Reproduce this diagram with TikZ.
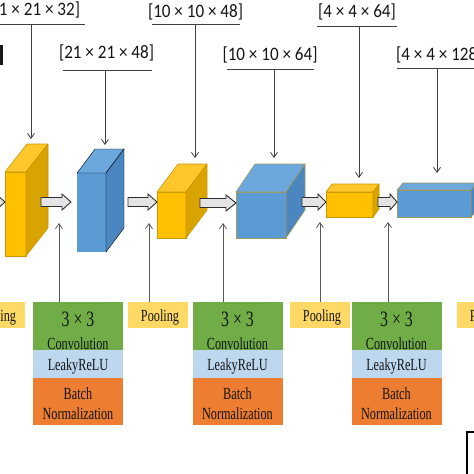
\documentclass[tikz,border=0pt]{standalone}
\usepackage{fontspec}
\usetikzlibrary{arrows.meta,calc}
\newfontfamily\labfont[FakeStretch=0.9]{Carlito}
\newfontfamily\boxfont[FakeStretch=0.72]{Liberation Serif}
\definecolor{yfront}{HTML}{FFC000}
\definecolor{ytop}{HTML}{FFC72C}
\definecolor{yside}{HTML}{D9A300}
\definecolor{yedge}{HTML}{C99700}
\definecolor{bfront}{HTML}{5B9BD5}
\definecolor{btop}{HTML}{6CA7DD}
\definecolor{bside}{HTML}{4B86C0}
\definecolor{bedge}{HTML}{A09A5C}
\definecolor{convg}{HTML}{70AD47}
\definecolor{relub}{HTML}{BDD7EE}
\definecolor{bno}{HTML}{ED7D31}
\definecolor{poolY}{HTML}{FFD966}
\definecolor{txt}{HTML}{141414}
\definecolor{arrfill}{HTML}{E4E4E4}
\definecolor{arredge}{HTML}{2E2E2E}
\newcommand\cubeshape[7]{%
  \node[#7front, minimum width=#3pt, minimum height=#4pt] (#1) at #2 {};
  \filldraw[#7top] (#1.north west) -- ++(#5,#6) -- ($(#1.north east)+(#5,#6)$) -- (#1.north east) -- cycle;
  \filldraw[#7side] (#1.north east) -- ++(#5,#6) -- ($(#1.south east)+(#5,#6)$) -- (#1.south east) -- cycle;
}
\newcommand\barrow[3]{%
  \draw[blockarr] (#1) ++(0,-4.5) -- ++(#2,0) -- ++(0,-3.5) -- ++(#3,8) -- ++(-#3,8) -- ++(0,-3.5) -- ++(-#2,0) -- cycle;
}
\tikzset{
  face/.style={inner sep=0pt, outer sep=0pt, anchor=north west},
  Yfront/.style={face, fill=yfront, draw=yedge, line width=0.6pt},
  Ytop/.style={fill=ytop, draw=yedge, line width=0.6pt, line join=round},
  Yside/.style={fill=yside, draw=yedge, line width=0.6pt, line join=round},
  Bfront/.style={face, fill=bfront},
  Btop/.style={fill=btop},
  Bside/.style={fill=bside},
  Efront/.style={face, fill=bfront, draw=bedge, line width=0.6pt},
  Etop/.style={fill=btop, draw=bedge, line width=0.6pt, line join=round},
  Eside/.style={fill=bside, draw=bedge, line width=0.6pt, line join=round},
  blockarr/.style={fill=arrfill, draw=arredge, line width=0.9pt, line join=miter},
  toplab/.style={font=\labfont\fontsize{19}{19}\selectfont, text=txt, inner sep=0pt},
  uline/.style={draw=black!75, line width=0.9pt},
  dnarr/.style={draw=black!75, line width=0.8pt, -{Straight Barb[length=5pt,width=7pt]}},
  uparr/.style={draw=black!65, line width=0.8pt, -{Straight Barb[length=5pt,width=7pt]}},
  boxbase/.style={inner sep=0pt, outer sep=0pt, minimum width=90pt},
  convbox/.style={boxbase, fill=convg, minimum height=48pt},
  relubox/.style={boxbase, fill=relub, minimum height=28pt},
  bnbox/.style={boxbase, fill=bno, minimum height=47pt},
  poolbox/.style={inner sep=0pt, outer sep=0pt, minimum width=60pt, minimum height=26pt, fill=poolY},
  boxtext/.style={inner sep=0pt, text=txt, align=center, font=\boxfont\fontsize{17}{20}\selectfont},
  convtext/.style={boxtext, font=\boxfont\fontsize{17}{23}\selectfont},
}
\begin{document}
\begin{tikzpicture}[x=1pt,y=-1pt]
\useasboundingbox (0,0) rectangle (474,474);
% top labels
\node[toplab] (t1) at (32.5,10) {[21 × 21 × 32]};
\node[toplab] (t2) at (106.5,53) {[21 × 21 × 48]};
\node[toplab] (t3) at (195.5,12) {[10 × 10 × 48]};
\node[toplab] (t4) at (270,55) {[10 × 10 × 64]};
\node[toplab] (t5) at (357,12) {[4 × 4 × 64]};
\node[toplab, anchor=west] (t6) at (396,55) {[4 × 4 × 128]};
\coordinate (u1a) at (-5,24);  \coordinate (u1b) at (85,24);
\coordinate (u2a) at (63,70);  \coordinate (u2b) at (152,70);
\coordinate (u3a) at (152,24); \coordinate (u3b) at (240,24);
\coordinate (u4a) at (227,69); \coordinate (u4b) at (314,69);
\coordinate (u5a) at (317,26); \coordinate (u5b) at (397,26);
\coordinate (u6a) at (397,68); \coordinate (u6b) at (480,68);
\foreach \i in {1,...,6} {\draw[uline] (u\i a) -- (u\i b);}
% cubes
\cubeshape{c1}{(5,172)}{21}{84}{22}{-28}{Y}
\cubeshape{c2}{(77,173)}{29}{79}{18}{-24}{B}
\cubeshape{c3}{(157,192)}{29}{46}{21}{-28}{Y}
\cubeshape{c4}{(236,192)}{50}{46}{19}{-28}{E}
\cubeshape{c5}{(326,192)}{47}{25}{6}{-8}{Y}
\cubeshape{c6}{(397,190)}{74}{27}{6}{-7}{E}
% down arrows
\coordinate (d1) at (31,139);
\coordinate (d2) at (105,145);
\coordinate (d3) at (195,158);
\coordinate (d4) at (274,158);
\coordinate (d5) at (359,178);
\coordinate (d6) at (437,173);
\foreach \i in {1,...,6} {\draw[dnarr] (d\i |- u\i a) -- (d\i);}
% block arrows
\coordinate (a0) at (-25,202);
\coordinate (a1) at (41,202);
\coordinate (a2) at (128,202);
\coordinate (a3) at (200,203);
\coordinate (a4) at (302,202);
\coordinate (a5) at (378,202);
\barrow{a0}{21}{9}
\barrow{a1}{21}{9}
\barrow{a2}{20}{9}
\barrow{a3}{26}{10}
\barrow{a4}{16}{8}
\barrow{a5}{12}{7}
% bottom boxes
\foreach \n/\x in {1/-5, 2/158, 3/320, 4/487} {
  \node[poolbox] (p\n) at (\x,315) {};
  \node[boxtext] (pt\n) at ($(p\n)+(2,2)$) {Pooling};
}
\foreach \n/\x in {1/78, 2/237.5, 3/396.5} {
  \node[convbox] (g\n) at (\x,326) {};
  \node[convtext] (gt\n) at ($(g\n)+(0,5)$) {{\fontsize{22}{23}\selectfont 3 × 3}\\Convolution};
  \node[relubox] (r\n) at (\x,364) {};
  \node[boxtext] (rt\n) at ($(r\n)+(0,2)$) {LeakyReLU};
  \node[bnbox] (n\n) at (\x,401.5) {};
  \node[boxtext] (nt\n) at ($(n\n)+(0,2)$) {Batch\\Normalization};
}
% up arrows
\coordinate (e1) at (59,223);
\coordinate (e2) at (149,223);
\coordinate (e3) at (223,223);
\coordinate (e4) at (320,222);
\coordinate (e5) at (388,222);
\draw[uparr] (e1 |- g1.north) -- (e1);
\draw[uparr] (e2 |- p2.north) -- (e2);
\draw[uparr] (e3 |- g2.north) -- (e3);
\draw[uparr] (e4 |- p3.north) -- (e4);
\draw[uparr] (e5 |- g3.north) -- (e5);
% fragments at the edges
\fill[black!90] (-3,45) rectangle (3,65);
\draw[black, line width=1.5pt] (467,432) rectangle (485,485);
\end{tikzpicture}
\end{document}
